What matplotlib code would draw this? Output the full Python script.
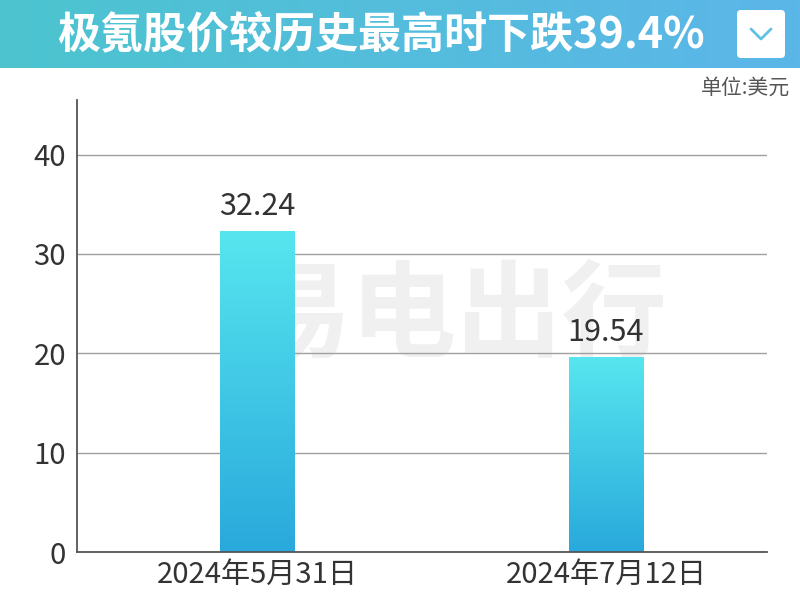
import numpy as np
import matplotlib.pyplot as plt
from matplotlib.colors import LinearSegmentedColormap
from matplotlib.patches import FancyBboxPatch

plt.rcParams['font.family'] = ['Noto Sans CJK SC', 'DejaVu Sans']

categories = ['2024年5月31日', '2024年7月12日']
prices = [32.24, 19.54]
yticks = [0, 10, 20, 30, 40]
title = '极氪股价较历史最高时下跌39.4%'
unit = '单位:美元'

fig = plt.figure(figsize=(8, 6), dpi=100)

# header band with horizontal gradient
hdr = fig.add_axes([0, 1 - 68 / 600, 1, 68 / 600])
hdr_cmap = LinearSegmentedColormap.from_list('hdr', ['#4cc4cf', '#5cb6e9'])
hdr.imshow(np.linspace(0, 1, 256)[None, :], cmap=hdr_cmap, aspect='auto',
           extent=(0, 800, 0, 68))
hdr.set_xlim(0, 800)
hdr.set_ylim(0, 68)
hdr.axis('off')
hdr.text(381, 34, title, color='white', fontsize=31, fontweight='bold',
         ha='center', va='center')
hdr.add_patch(FancyBboxPatch((737, 10), 48, 48, boxstyle='round,pad=0,rounding_size=4',
                             fc='white', ec='none'))
hdr.plot([751, 761, 771], [39, 29, 39], color='#5ec3e2', lw=2, solid_capstyle='round')

fig.text(790 / 800, 1 - 88 / 600, unit, ha='right', va='center', fontsize=15,
         color='#555555', fontweight='light')

ax = fig.add_axes([77 / 800, 48 / 600, 690 / 800, 452 / 600])
x = np.arange(len(categories))
width = 0.215
bars = ax.bar(x, prices, width=width, color='none', zorder=3)

bar_cmap = LinearSegmentedColormap.from_list('bar', ['#29a9dc', '#57e6ef'])
grad = np.linspace(0, 1, 256)[:, None]
for b in bars:
    x0, y0 = b.get_x(), b.get_y()
    ax.imshow(grad, cmap=bar_cmap, origin='lower', aspect='auto', zorder=3,
              extent=(x0, x0 + b.get_width(), y0, y0 + b.get_height()))
    ax.text(b.get_x() + b.get_width() / 2, b.get_height() + 1.0, f'{b.get_height():.2f}',
            ha='center', va='bottom', fontsize=22, color='#333333', zorder=4,
            fontweight='light')

# faint watermark
ax.text(0.55, 0.52, '易电出行', transform=ax.transAxes, ha='center', va='center',
        fontsize=76, fontweight='bold', color='#f0f0f0', zorder=1)

ax.set_xlim(-0.518, 1.462)
ax.set_ylim(0, 45.5)
ax.set_yticks(yticks)
ax.set_xticks(x)
ax.set_xticklabels(categories)
ax.grid(axis='y', color='#a0a0a0', lw=1, zorder=2)
ax.set_axisbelow(False)
for s in ['top', 'right']:
    ax.spines[s].set_visible(False)
for s in ['left', 'bottom']:
    ax.spines[s].set_color('#555555')
    ax.spines[s].set_linewidth(1.3)
    ax.spines[s].set_zorder(5)
ax.tick_params(axis='both', length=0, labelsize=21, labelcolor='#333333')
ax.tick_params(axis='y', pad=8)
ax.tick_params(axis='x', pad=6)
for lbl in ax.get_xticklabels() + ax.get_yticklabels():
    lbl.set_fontweight('light')

plt.savefig('out.png', dpi=100)
